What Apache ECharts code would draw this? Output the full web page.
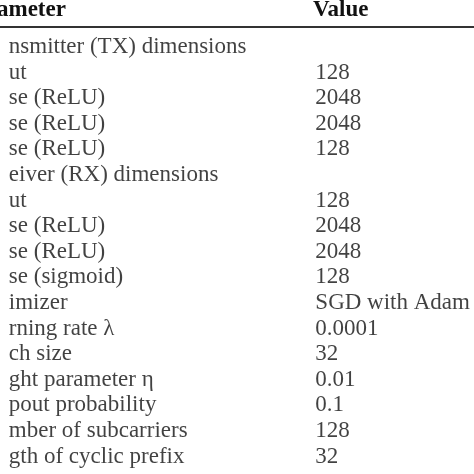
<!DOCTYPE html>
<html><head><meta charset="utf-8">
<script src="https://cdn.jsdelivr.net/npm/echarts@6/dist/echarts.min.js"></script>
<style>html,body{margin:0;padding:0;background:#fff}#c{width:474px;height:474px}</style>
</head><body><div id="c"></div>
<script>
const headers = ["ameter", "Value"];
const params = ["nsmitter (TX) dimensions","ut","se (ReLU)","se (ReLU)","se (ReLU)","eiver (RX) dimensions","ut","se (ReLU)","se (ReLU)","se (sigmoid)","imizer","rning rate \u03bb","ch size","ght parameter \u03b7","pout probability","mber of subcarriers","gth of cyclic prefix"];
const values = ["","128","2048","2048","128","","128","2048","2048","128","SGD with Adam","0.0001","32","0.01","0.1","128","32"];
const rows = params.map((p,i)=>String(i));
const font = '"Liberation Serif", "DejaVu Serif", serif';
const chart = echarts.init(document.getElementById('c'));
function col(x, texts){
  return {type:'scatter', symbolSize:0, silent:true,
    data: texts.map((t,i)=>({value:[x, rows[i]], label:{formatter:t}})),
    label:{show:true, position:'right', distance:0, color:'#111', fontFamily:font, fontSize:23}};
}
chart.setOption({
  animation:false,
  grid:{left:0,right:0,top:34.2,bottom:4.6},
  xAxis:{type:'value',min:-10,max:474,show:false},
  yAxis:{type:'category',data:rows,inverse:true,show:false},
  series:[col(-1, params), col(312, values)],
  graphic:[
    {type:'text',left:-3,top:-1,style:{text:headers[0],font:'bold 23px '+font,fill:'#111'}},
    {type:'text',left:313,top:-1,style:{text:headers[1],font:'bold 23px '+font,fill:'#111'}},
    {type:'line',shape:{x1:0,y1:27,x2:474,y2:27},style:{stroke:'#333',lineWidth:2}}
  ]
});
</script></body></html>
